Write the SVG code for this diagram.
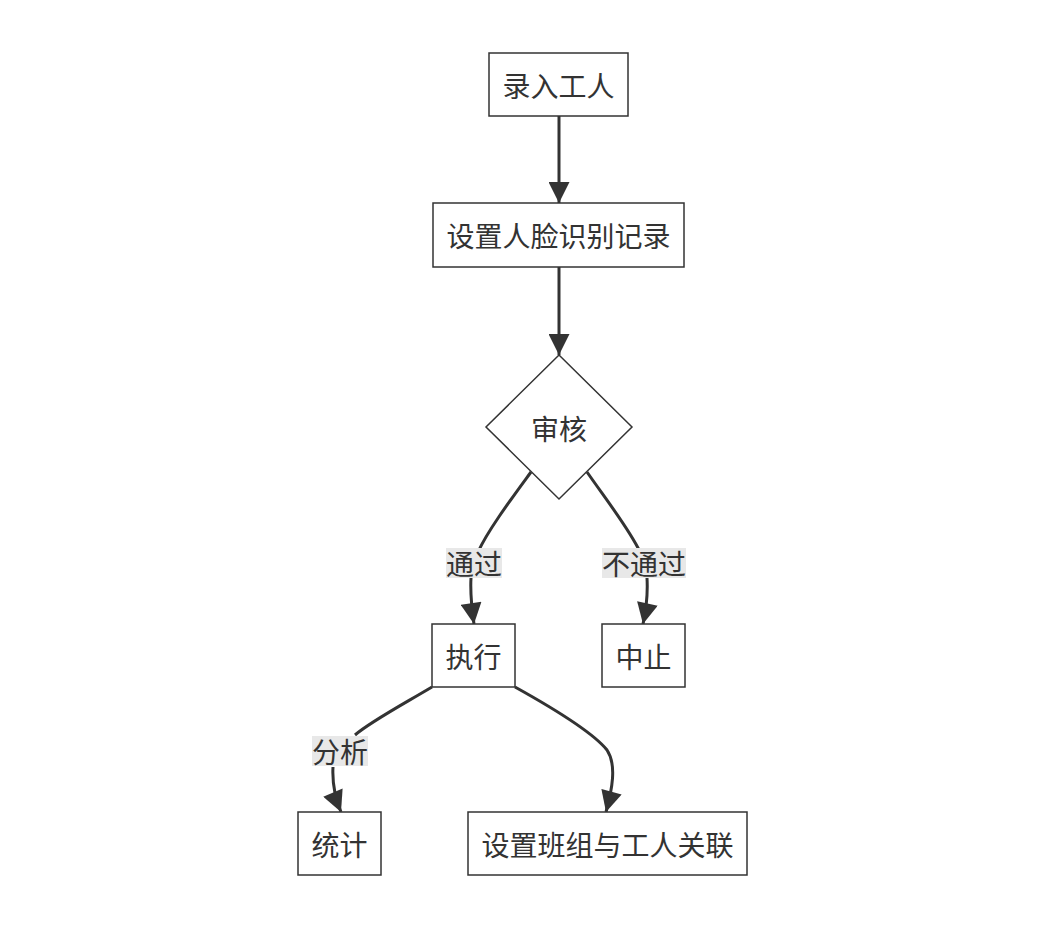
<svg xmlns="http://www.w3.org/2000/svg" width="1046" height="932" viewBox="0 0 1046 932">
<style>
.n{fill:#fff;stroke:#333;stroke-width:1.5}
.t{font-family:"Noto Sans CJK SC","Liberation Sans",sans-serif;font-size:28px;fill:#333;text-anchor:middle;dominant-baseline:central}
.e{fill:none;stroke:#333;stroke-width:3}
.lb{fill:#e8e8e8}
</style>
<defs>
<marker id="a" viewBox="0 0 10 10" refX="10" refY="5" markerWidth="7.5" markerHeight="7" markerUnits="strokeWidth" orient="auto">
<path d="M0,0 L10,5 L0,10 z" fill="#333"/>
</marker>
</defs>
<rect width="1046" height="932" fill="#fff"/>
<g id="edges">
<path class="e" d="M559,116 L559,203" marker-end="url(#a)"/>
<path class="e" d="M559,267 L559,355" marker-end="url(#a)"/>
<path class="e" d="M531,472 C512,498 488,530 478,552 M471,578 C470,595 472,610 474,624" marker-end="url(#a)"/>
<path class="e" d="M587,472 C605,498 630,530 640,552 M647,578 C648,595 646,610 643,624" marker-end="url(#a)"/>
<path class="e" d="M432,687 C400,706 370,722 355,735 M333,767 C332,785 336,800 341,812" marker-end="url(#a)"/>
<path class="e" d="M515,687 C560,712 595,735 607,750 C617,765 612,790 606,812" marker-end="url(#a)"/>
<g id="lbl1"><rect class="lb" x="446" y="548" width="56" height="30"/><text class="t" x="474" y="563">通过</text></g>
<g id="lbl2"><rect class="lb" x="602" y="548" width="84" height="30"/><text class="t" x="644" y="563">不通过</text></g>
<g id="lbl3"><rect class="lb" x="312" y="736" width="56" height="30"/><text class="t" x="340" y="751">分析</text></g>
</g>
<g id="n1"><rect class="n" x="489" y="53" width="139" height="63"/><text class="t" x="558.5" y="85">录入工人</text></g>
<g id="n2"><rect class="n" x="433" y="203" width="251" height="64"/><text class="t" x="558.5" y="235">设置人脸识别记录</text></g>
<g id="n3"><path class="n" d="M559,355 L632,427 L559,499 L486,427 Z"/><text class="t" x="559" y="428">审核</text></g>
<g id="n4"><rect class="n" x="432" y="624" width="83" height="63"/><text class="t" x="473.5" y="656">执行</text></g>
<g id="n5"><rect class="n" x="602" y="624" width="83" height="63"/><text class="t" x="643.5" y="656">中止</text></g>
<g id="n6"><rect class="n" x="298" y="812" width="83" height="63"/><text class="t" x="339.5" y="844">统计</text></g>
<g id="n7"><rect class="n" x="468" y="812" width="279" height="63"/><text class="t" x="607.5" y="844">设置班组与工人关联</text></g>
</svg>
